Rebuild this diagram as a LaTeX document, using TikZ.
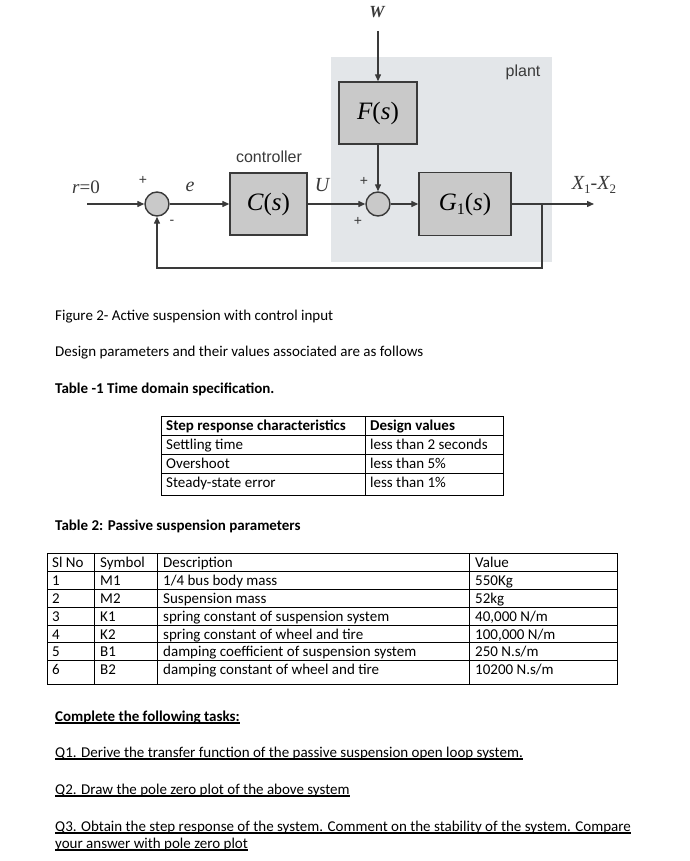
\documentclass[tikz,border=0pt]{standalone}
\usepackage{fontspec}
\setmainfont{Carlito}
\newfontfamily\arialf{Liberation Sans}
\newfontfamily\tmsf{Liberation Serif}
\usetikzlibrary{arrows.meta}
\newcommand\mi[1]{{\itshape #1}}
\definecolor{plantbg}{HTML}{E3E6E9}
\definecolor{blkfill}{HTML}{C9C9C9}
\definecolor{blkline}{HTML}{3A3A3A}
\tikzset{
  blk/.style={draw=blkline, fill=blkfill, line width=1.4pt, inner sep=0pt,
    font=\tmsf\fontsize{25}{28}\selectfont},
  sumc/.style={circle, draw=blkline, fill=blkfill, line width=1.4pt, minimum size=24pt, inner sep=0pt},
  sig/.style={draw=blkline, line width=1.3pt, -{Triangle[length=7pt,width=6pt]}},
  lbl/.style={font=\tmsf\itshape\fontsize{20}{22}\selectfont, inner sep=0pt, text=blkline},
  sgn/.style={font=\arialf\fontsize{14}{14}\selectfont, inner sep=0pt, text=blkline},
  sans/.style={font=\arialf\fontsize{16}{18}\selectfont, inner sep=0pt, text=blkline},
  body/.style={font=\fontsize{15}{17}\selectfont, inner sep=0pt, anchor=base west},
  cell/.style={font=\fontsize{15}{17}\selectfont, inner sep=0pt, anchor=base west},
  tline/.style={draw=black, line width=1pt},
  ul/.style={draw=black, line width=1.1pt}
}
\begin{document}
\begin{tikzpicture}[x=1pt,y=-1pt]
\useasboundingbox (0,0) rectangle (689,861);
\fill[white] (0,0) rectangle (689,861);
% plant background
\fill[plantbg] (331,57) rectangle (552,262);
\node[sans] (plant) at (523,72) {plant};
% blocks
\node[blk, minimum width=78pt, minimum height=62pt] (F) at (378,113) {\mi{F}(\mi{s})};
\node[blk, minimum width=77pt, minimum height=62pt] (C) at (268.5,204) {\mi{C}(\mi{s})};
\node[blk, minimum width=92pt, minimum height=63pt] (G) at (465,204) {\mi{G}\raisebox{-0.35ex}{\fontsize{16}{16}\selectfont 1}(\mi{s})};
\node[sumc] (S1) at (157,204) {};
\node[sumc] (S2) at (378,204) {};
\coordinate (Win) at (378,31);
\coordinate (rin) at (87,204);
\coordinate (out) at (594,204);
\coordinate (br) at (542,204);
\coordinate (fb) at (542,268);
\coordinate (fb2) at (157,268);
% connectors
\draw[sig] (Win) -- (F.north);
\draw[sig] (F.south) -- (S2.north);
\draw[sig] (rin) -- (S1.west);
\draw[sig] (S1.east) -- (C.west);
\draw[sig] (C.east) -- (S2.west);
\draw[sig] (S2.east) -- (G.west);
\draw[sig] (G.east) -- (out);
\draw[sig] (br) -- (fb) -- (fb2) -- (S1.south);
% labels
\node[lbl, font=\tmsf\bfseries\itshape\fontsize{17}{18}\selectfont] (W) at (377,12) {W};
\node[sans] (ctrl) at (269,157) {controller};
\node[lbl, font=\tmsf\fontsize{19}{20}\selectfont] (r) at (86,187) {\mi{r}=0};
\node[sgn] (p1) at (143,180) {+};
\node[sgn] (m1) at (172,222) {-};
\node[lbl] (e) at (190,187) {e};
\node[lbl] (U) at (322,185) {U};
\node[sgn] (p2) at (364,181) {+};
\node[sgn] (p3) at (358,221) {+};
\node[lbl, font=\tmsf\fontsize{20}{22}\selectfont] (X) at (594,185) {\mi{X}\raisebox{-0.35ex}{\fontsize{13}{13}\selectfont 1}-\mi{X}\raisebox{-0.35ex}{\fontsize{13}{13}\selectfont 2}};
% body text
\node[body] (fig) at (55,320) {Figure 2- Active suspension with control input};
\node[body] (des) at (55,356) {Design parameters and their values associated are as follows};
\node[body, font=\bfseries\fontsize{15}{17}\selectfont] (t1) at (55,393) {Table -1 Time domain specification.};
% table 1
\draw[tline] (161,416) rectangle (503,495);
\foreach \yy in {435,454,473} \draw[tline] (161,\yy) -- (503,\yy);
\draw[tline] (365,416) -- (365,495);
\node[cell, font=\bfseries\fontsize{15}{17}\selectfont] (h1) at (166,430) {Step response characteristics};
\node[cell, font=\bfseries\fontsize{15}{17}\selectfont] (h2) at (370,430) {Design values};
\node[cell] (a1) at (166,449) {Settling time};
\node[cell] (a2) at (370,449) {less than 2 seconds};
\node[cell] (b1) at (166,468) {Overshoot};
\node[cell] (b2) at (370,468) {less than 5\%};
\node[cell] (c1) at (166,487) {Steady-state error};
\node[cell] (c2) at (370,487) {less than 1\%};
% table 2 caption
\node[body, font=\bfseries\fontsize{15}{17}\selectfont] (t2) at (55,530) {Table 2: Passive suspension parameters};
% table 2
\draw[tline] (47,553) rectangle (617,684);
\foreach \yy in {571,589,607,625,642,660} \draw[tline] (47,\yy) -- (617,\yy);
\foreach \xx in {94,157,469} \draw[tline] (\xx,553) -- (\xx,684);
\node[cell] (r0a) at (52,567) {Sl No};
\node[cell] (r0b) at (100,567) {Symbol};
\node[cell] (r0c) at (163,567) {Description};
\node[cell] (r0d) at (475,567) {Value};
\node[cell] (r1a) at (52,585) {1};
\node[cell] (r1b) at (100,585) {M1};
\node[cell] (r1c) at (163,585) {1/4 bus body mass};
\node[cell] (r1d) at (475,585) {550Kg};
\node[cell] (r2a) at (52,603) {2};
\node[cell] (r2b) at (100,603) {M2};
\node[cell] (r2c) at (163,603) {Suspension mass};
\node[cell] (r2d) at (475,603) {52kg};
\node[cell] (r3a) at (52,621) {3};
\node[cell] (r3b) at (100,621) {K1};
\node[cell] (r3c) at (163,621) {spring constant of suspension system};
\node[cell] (r3d) at (475,621) {40,000 N/m};
\node[cell] (r4a) at (52,639) {4};
\node[cell] (r4b) at (100,639) {K2};
\node[cell] (r4c) at (163,639) {spring constant of wheel and tire};
\node[cell] (r4d) at (475,639) {100,000 N/m};
\node[cell] (r5a) at (52,656) {5};
\node[cell] (r5b) at (100,656) {B1};
\node[cell] (r5c) at (163,656) {damping coefficient of suspension system};
\node[cell] (r5d) at (475,656) {250 N.s/m};
\node[cell] (r6a) at (52,674) {6};
\node[cell] (r6b) at (100,674) {B2};
\node[cell] (r6c) at (163,674) {damping constant of wheel and tire};
\node[cell] (r6d) at (475,674) {10200 N.s/m};
% tasks
\node[body, font=\bfseries\fontsize{15}{17}\selectfont] (ct) at (55,721) {Complete the following tasks:};
\node[body] (q1) at (55,757) {Q1. Derive the transfer function of the passive suspension open loop system.};
\node[body] (q2) at (55,794) {Q2. Draw the pole zero plot of the above system};
\node[body] (q3) at (55,831) {Q3. Obtain the step response of the system. Comment on the stability of the system. Compare};
\node[body] (q3b) at (55,848) {your answer with pole zero plot};
\foreach \n in {ct,q1,q2,q3,q3b} \draw[ul] ([yshift=-2pt]\n.base west) -- ([yshift=-2pt]\n.base east);
\end{tikzpicture}
\end{document}
